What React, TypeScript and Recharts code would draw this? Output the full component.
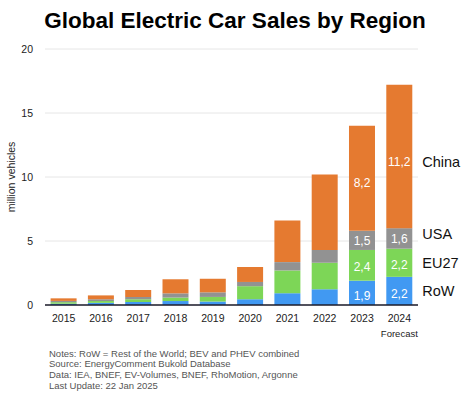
import React from 'react';
import { BarChart, Bar, XAxis, YAxis, CartesianGrid, LabelList } from 'recharts';

const years = ['2015', '2016', '2017', '2018', '2019', '2020', '2021', '2022', '2023', '2024'];
const rowValues = [0.1, 0.17, 0.23, 0.31, 0.27, 0.45, 0.92, 1.23, 1.9, 2.2];
const eu27Values = [0.12, 0.14, 0.22, 0.27, 0.36, 1.02, 1.78, 2.07, 2.4, 2.2];
const usaValues = [0.1, 0.14, 0.18, 0.33, 0.36, 0.33, 0.65, 1.0, 1.5, 1.6];
const chinaValues = [0.2, 0.3, 0.55, 1.1, 1.06, 1.17, 3.25, 5.9, 8.2, 11.2];
const labeledYears = ['2023', '2024'];
const forecastYears = ['2024'];
const yTicks = [0, 5, 10, 15, 20];
const seriesNames = { row: 'RoW', eu27: 'EU27', usa: 'USA', china: 'China' };
const notes = [
  'Notes: RoW = Rest of the World; BEV and PHEV combined',
  'Source: EnergyComment Bukold Database',
  'Data: IEA, BNEF, EV-Volumes, BNEF, RhoMotion, Argonne',
  'Last Update: 22 Jan 2025',
];
const title = 'Global Electric Car Sales by Region';

const fmt = (v: number) => v.toFixed(1).replace('.', ',');

const data = years.map((y, i) => {
  const show = labeledYears.includes(y);
  return {
    year: y,
    row: rowValues[i],
    eu27: eu27Values[i],
    usa: usaValues[i],
    china: chinaValues[i],
    rowLabel: show ? fmt(rowValues[i]) : undefined,
    eu27Label: show ? fmt(eu27Values[i]) : undefined,
    usaLabel: show ? fmt(usaValues[i]) : undefined,
    chinaLabel: show ? fmt(chinaValues[i]) : undefined,
  };
});

const FONT = '"Liberation Sans", Arial, Helvetica, sans-serif';
const colors = { row: '#4199f2', eu27: '#7dd657', usa: '#929292', china: '#e57a30' };

const XTick = (props: any) => {
  const { x, y, payload } = props;
  const isForecast = forecastYears.includes(payload.value);
  return (
    <g>
      <text x={x} y={y} dy={9} textAnchor="middle" fontSize={10.5} fill="#222" fontFamily={FONT}>
        {payload.value}
      </text>
      {isForecast && (
        <text x={x} y={y} dy={24} textAnchor="middle" fontSize={9.5} fill="#222" fontFamily={FONT}>
          Forecast
        </text>
      )}
    </g>
  );
};

const makeSeriesLabel = (name: string, dy: number) => (props: any) => {
  const { x, y, width, height, index } = props;
  if (index !== years.length - 1) return null;
  return (
    <text
      x={Number(x) + Number(width) + 10}
      y={Number(y) + Number(height) / 2 + dy}
      dominantBaseline="central"
      fontSize={14.5}
      fill="#111"
      fontFamily={FONT}
    >
      {name}
    </text>
  );
};

const valueLabel = (dy: number) => (props: any) => {
  const { x, y, width, height, value } = props;
  if (value === undefined || value === null || value === '') return null;
  return (
    <text
      x={Number(x) + Number(width) / 2}
      y={Number(y) + Number(height) / 2 + dy}
      textAnchor="middle"
      dominantBaseline="central"
      fontSize={12}
      fill="#ffffff"
      fontFamily={FONT}
    >
      {value}
    </text>
  );
};

export default function App() {
  return (
    <div style={{ position: 'absolute', left: 0, top: 0, width: 471, height: 400, background: '#fff', fontFamily: FONT }}>
      <BarChart
        width={471}
        height={400}
        data={data}
        margin={{ top: 49, right: 53, bottom: 65, left: 0 }}
        barCategoryGap="15%"
      >
        <CartesianGrid horizontal vertical={false} stroke="#e6e6e6" />
        <XAxis
          dataKey="year"
          height={30}
          axisLine={{ stroke: '#1d1d2b', strokeWidth: 1.5 }}
          tickLine={false}
          tick={<XTick />}
          interval={0}
        />
        <YAxis
          width={45}
          domain={[0, 20]}
          ticks={yTicks}
          axisLine={false}
          tickLine={false}
          tickMargin={6}
          tick={{ fontSize: 10.5, fill: '#222', fontFamily: FONT }}
          label={{
            value: 'million vehicles',
            angle: -90,
            position: 'center',
            dx: -11,
            style: { fontSize: 10.5, fill: '#222', fontFamily: FONT },
          }}
        />
        <Bar dataKey="row" stackId="a" fill={colors.row} isAnimationActive={false}>
          <LabelList dataKey="rowLabel" content={valueLabel(3)} />
          <LabelList dataKey="row" content={makeSeriesLabel(seriesNames.row, 0)} />
        </Bar>
        <Bar dataKey="eu27" stackId="a" fill={colors.eu27} isAnimationActive={false}>
          <LabelList dataKey="eu27Label" content={valueLabel(2)} />
          <LabelList dataKey="eu27" content={makeSeriesLabel(seriesNames.eu27, 0)} />
        </Bar>
        <Bar dataKey="usa" stackId="a" fill={colors.usa} isAnimationActive={false}>
          <LabelList dataKey="usaLabel" content={valueLabel(1)} />
          <LabelList dataKey="usa" content={makeSeriesLabel(seriesNames.usa, -4)} />
        </Bar>
        <Bar dataKey="china" stackId="a" fill={colors.china} isAnimationActive={false}>
          <LabelList dataKey="chinaLabel" content={valueLabel(5)} />
          <LabelList dataKey="china" content={makeSeriesLabel(seriesNames.china, 5)} />
        </Bar>
      </BarChart>
      <svg width={471} height={400} style={{ position: 'absolute', left: 0, top: 0, pointerEvents: 'none' }}>
        <text x={235} y={27.5} textAnchor="middle" fontSize={22.5} fontWeight="bold" fill="#000" fontFamily={FONT}>
          {title}
        </text>
        {notes.map((n, i) => (
          <text key={i} x={49} y={356.5 + i * 10.7} fontSize={9.5} fill="#555" fontFamily={FONT}>
            {n}
          </text>
        ))}
      </svg>
    </div>
  );
}
